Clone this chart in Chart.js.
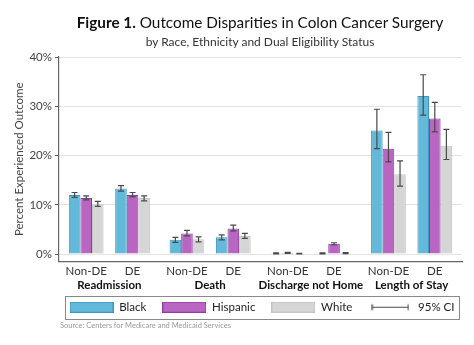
<!DOCTYPE html>
<html>
<head>
<meta charset="utf-8">
<script src="https://cdn.jsdelivr.net/npm/chart.js@4.4.1/dist/chart.umd.min.js"></script>
<style>
    html, body { margin: 0; padding: 0; background: #fff; }
    #wrap { position: relative; width: 474px; height: 345px; font-family: Lato, sans-serif; }
    #chart { position: absolute; left: 0; top: 0; }
    .title { position: absolute; left: 0; width: 520px; text-align: center; white-space: nowrap; }
    #t1 { top: 13px; font-size: 15.3px; color: #111; }
    #t2 { top: 34px; font-size: 12px; color: #333; }
    #source { position: absolute; left: 60px; top: 321px; font-size: 7.5px; color: #999; }
</style>
</head>
<body>
<div id="wrap">
    <canvas id="chart" width="474" height="345"></canvas>
    <div class="title" id="t1"><b>Figure 1.</b> Outcome Disparities in Colon Cancer Surgery</div>
    <div class="title" id="t2">by Race, Ethnicity and Dual Eligibility Status</div>
    <div id="source">Source: Centers for Medicare and Medicaid Services</div>
</div>
<script>
const outcomes = ['Readmission', 'Death', 'Discharge not Home', 'Length of Stay'];
const eligibility = ['Non-DE', 'DE'];
const groups = ['Black', 'Hispanic', 'White'];
const yTicks = [0, 10, 20, 30, 40];

// Percent experienced outcome, one value per outcome
const blackNonDE    = [12.0, 2.9, 0.15, 25.1];
const hispanicNonDE = [11.4, 4.2, 0.25, 21.4];
const whiteNonDE    = [10.1, 3.0, 0.1, 16.2];
const blackDE       = [13.3, 3.4, 0.15, 32.1];
const hispanicDE    = [12.0, 5.2, 2.1, 27.5];
const whiteDE       = [11.4, 3.7, 0.2, 22.0];

// 95% CI [low, high]
const blackNonDECI    = [[11.5, 12.5], [2.4, 3.4], [0.05, 0.25], [21.4, 29.4]];
const hispanicNonDECI = [[11.0, 11.8], [3.7, 4.8], [0.15, 0.35], [18.7, 24.7]];
const whiteNonDECI    = [[9.7, 10.7], [2.5, 3.5], [0.05, 0.15], [13.8, 18.9]];
const blackDECI       = [[12.8, 13.9], [2.9, 3.9], [0.05, 0.25], [28.2, 36.4]];
const hispanicDECI    = [[11.6, 12.5], [4.7, 5.9], [1.9, 2.3], [24.8, 30.8]];
const whiteDECI       = [[10.8, 11.8], [3.2, 4.2], [0.1, 0.3], [19.2, 25.3]];

const fills   = ['#62b9d9', '#b866c1', '#d5d5d5'];
const borders = ['#3d97bf', '#8d3d9b', '#c4c4c4'];
const ciColor = '#4a4a4a';
const FONT = 'Lato';

function barSet(g, values, ci) {
    return {
        label: groups[g], data: values, ci: ci,
        backgroundColor: fills[g], borderColor: borders[g], borderWidth: 1
    };
}

const datasets = [
    barSet(0, blackNonDE, blackNonDECI),
    barSet(1, hispanicNonDE, hispanicNonDECI),
    barSet(2, whiteNonDE, whiteNonDECI),
    { label: '', data: outcomes.map(() => null) }, // gap between Non-DE and DE
    barSet(0, blackDE, blackDECI),
    barSet(1, hispanicDE, hispanicDECI),
    barSet(2, whiteDE, whiteDECI)
];

// legend swatches as small canvases
function swatch(g) {
    const c = document.createElement('canvas');
    c.width = 44; c.height = 11;
    const x = c.getContext('2d');
    x.fillStyle = fills[g];
    x.fillRect(0, 0, 44, 11);
    x.strokeStyle = borders[g];
    x.strokeRect(0.5, 0.5, 43, 10);
    return c;
}
function ciGlyph() {
    const c = document.createElement('canvas');
    c.width = 38; c.height = 9;
    const x = c.getContext('2d');
    x.strokeStyle = ciColor;
    x.lineWidth = 1.2;
    x.beginPath();
    x.moveTo(1, 4.5); x.lineTo(37, 4.5);
    x.moveTo(1, 1.5); x.lineTo(1, 7.5);
    x.moveTo(37, 1.5); x.lineTo(37, 7.5);
    x.stroke();
    return c;
}

const errorBars = {
    id: 'errorBars',
    afterDatasetsDraw(chart) {
        const { ctx, scales: { y } } = chart;
        ctx.save();
        ctx.strokeStyle = ciColor;
        ctx.lineWidth = 1.2;
        chart.data.datasets.forEach((ds, i) => {
            if (!ds.ci) return;
            chart.getDatasetMeta(i).data.forEach((bar, j) => {
                const lo = y.getPixelForValue(ds.ci[j][0]);
                const hi = y.getPixelForValue(ds.ci[j][1]);
                ctx.beginPath();
                ctx.moveTo(bar.x, lo); ctx.lineTo(bar.x, hi);
                ctx.moveTo(bar.x - 3, lo); ctx.lineTo(bar.x + 3, lo);
                ctx.moveTo(bar.x - 3, hi); ctx.lineTo(bar.x + 3, hi);
                ctx.stroke();
            });
        });
        ctx.restore();
    }
};

// Non-DE / DE labels under each triplet of bars
const subLabels = {
    id: 'subLabels',
    afterDraw(chart) {
        const { ctx, chartArea } = chart;
        ctx.save();
        ctx.font = '11.5px ' + FONT;
        ctx.fillStyle = '#333';
        ctx.textAlign = 'center';
        ctx.textBaseline = 'middle';
        [1, 5].forEach((di, k) => {
            chart.getDatasetMeta(di).data.forEach(bar => {
                ctx.fillText(eligibility[k], bar.x, chartArea.bottom + 10);
            });
        });
        ctx.restore();
    }
};

const legendBorder = {
    id: 'legendBorder',
    afterLayout(chart) {
        // centre the legend under the plot and tuck it under the axis labels
        const lg = chart.legend;
        lg.left += 31; lg.right += 31;
        lg.top -= 10; lg.bottom -= 10;
    },
    afterDraw(chart) {
        const boxes = chart.legend.legendHitBoxes;
        if (!boxes || !boxes.length) return;
        const left = Math.min(...boxes.map(b => b.left)) - 5;
        const right = Math.max(...boxes.map(b => b.left + b.width)) + 4;
        const top = boxes[0].top - 6;
        const bottom = boxes[0].top + boxes[0].height + 5;
        const ctx = chart.ctx;
        ctx.save();
        ctx.strokeStyle = '#888';
        ctx.lineWidth = 1;
        ctx.strokeRect(Math.round(left) + 0.5, Math.round(top) + 0.5, Math.round(right - left), Math.round(bottom - top));
        ctx.restore();
    }
};

new Chart(document.getElementById('chart'), {
    type: 'bar',
    data: { labels: outcomes, datasets: datasets },
    options: {
        responsive: false,
        animation: false,
        layout: { padding: { top: 57, right: 12, left: 0, bottom: 12 } },
        datasets: { bar: { categoryPercentage: 0.805, barPercentage: 1.0 } },
        scales: {
            x: {
                grid: { display: false, drawTicks: false },
                border: { display: true, color: '#666', width: 1.2 },
                ticks: {
                    color: '#111', padding: 17, maxRotation: 0, autoSkip: false,
                    font: { family: FONT, size: 11.5, weight: 'bold' }
                },
                afterFit(scale) { scale.height = 34; }
            },
            y: {
                min: -1.5,
                max: 40,
                afterBuildTicks(scale) { scale.ticks = yTicks.map(v => ({ value: v })); },
                grid: { color: '#e3e3e3', tickColor: '#555', tickLength: 4 },
                border: { color: '#666', width: 1.2 },
                ticks: { color: '#444', padding: 3, font: { family: FONT, size: 11.5 }, callback: v => v + '%' },
                title: {
                    display: true, text: 'Percent Experienced Outcome', color: '#444',
                    font: { family: FONT, size: 11.5 }, padding: { top: 12, bottom: 0 }
                },
                afterFit(scale) { scale.width = 59; }
            }
        },
        plugins: {
            tooltip: { enabled: false },
            legend: {
                position: 'bottom',
                labels: {
                    usePointStyle: true,
                    pointStyleWidth: 44,
                    boxHeight: 11,
                    padding: 16,
                    color: '#222',
                    font: { family: FONT, size: 11.5 },
                    generateLabels: () => groups.map((g, i) => ({
                        text: g, pointStyle: swatch(i), fontColor: '#222', lineWidth: 0, hidden: false
                    })).concat([{ text: '95% CI', pointStyle: ciGlyph(), fontColor: '#222', lineWidth: 0, hidden: false }])
                }
            }
        }
    },
    plugins: [errorBars, subLabels, legendBorder]
});
</script>
</body>
</html>
